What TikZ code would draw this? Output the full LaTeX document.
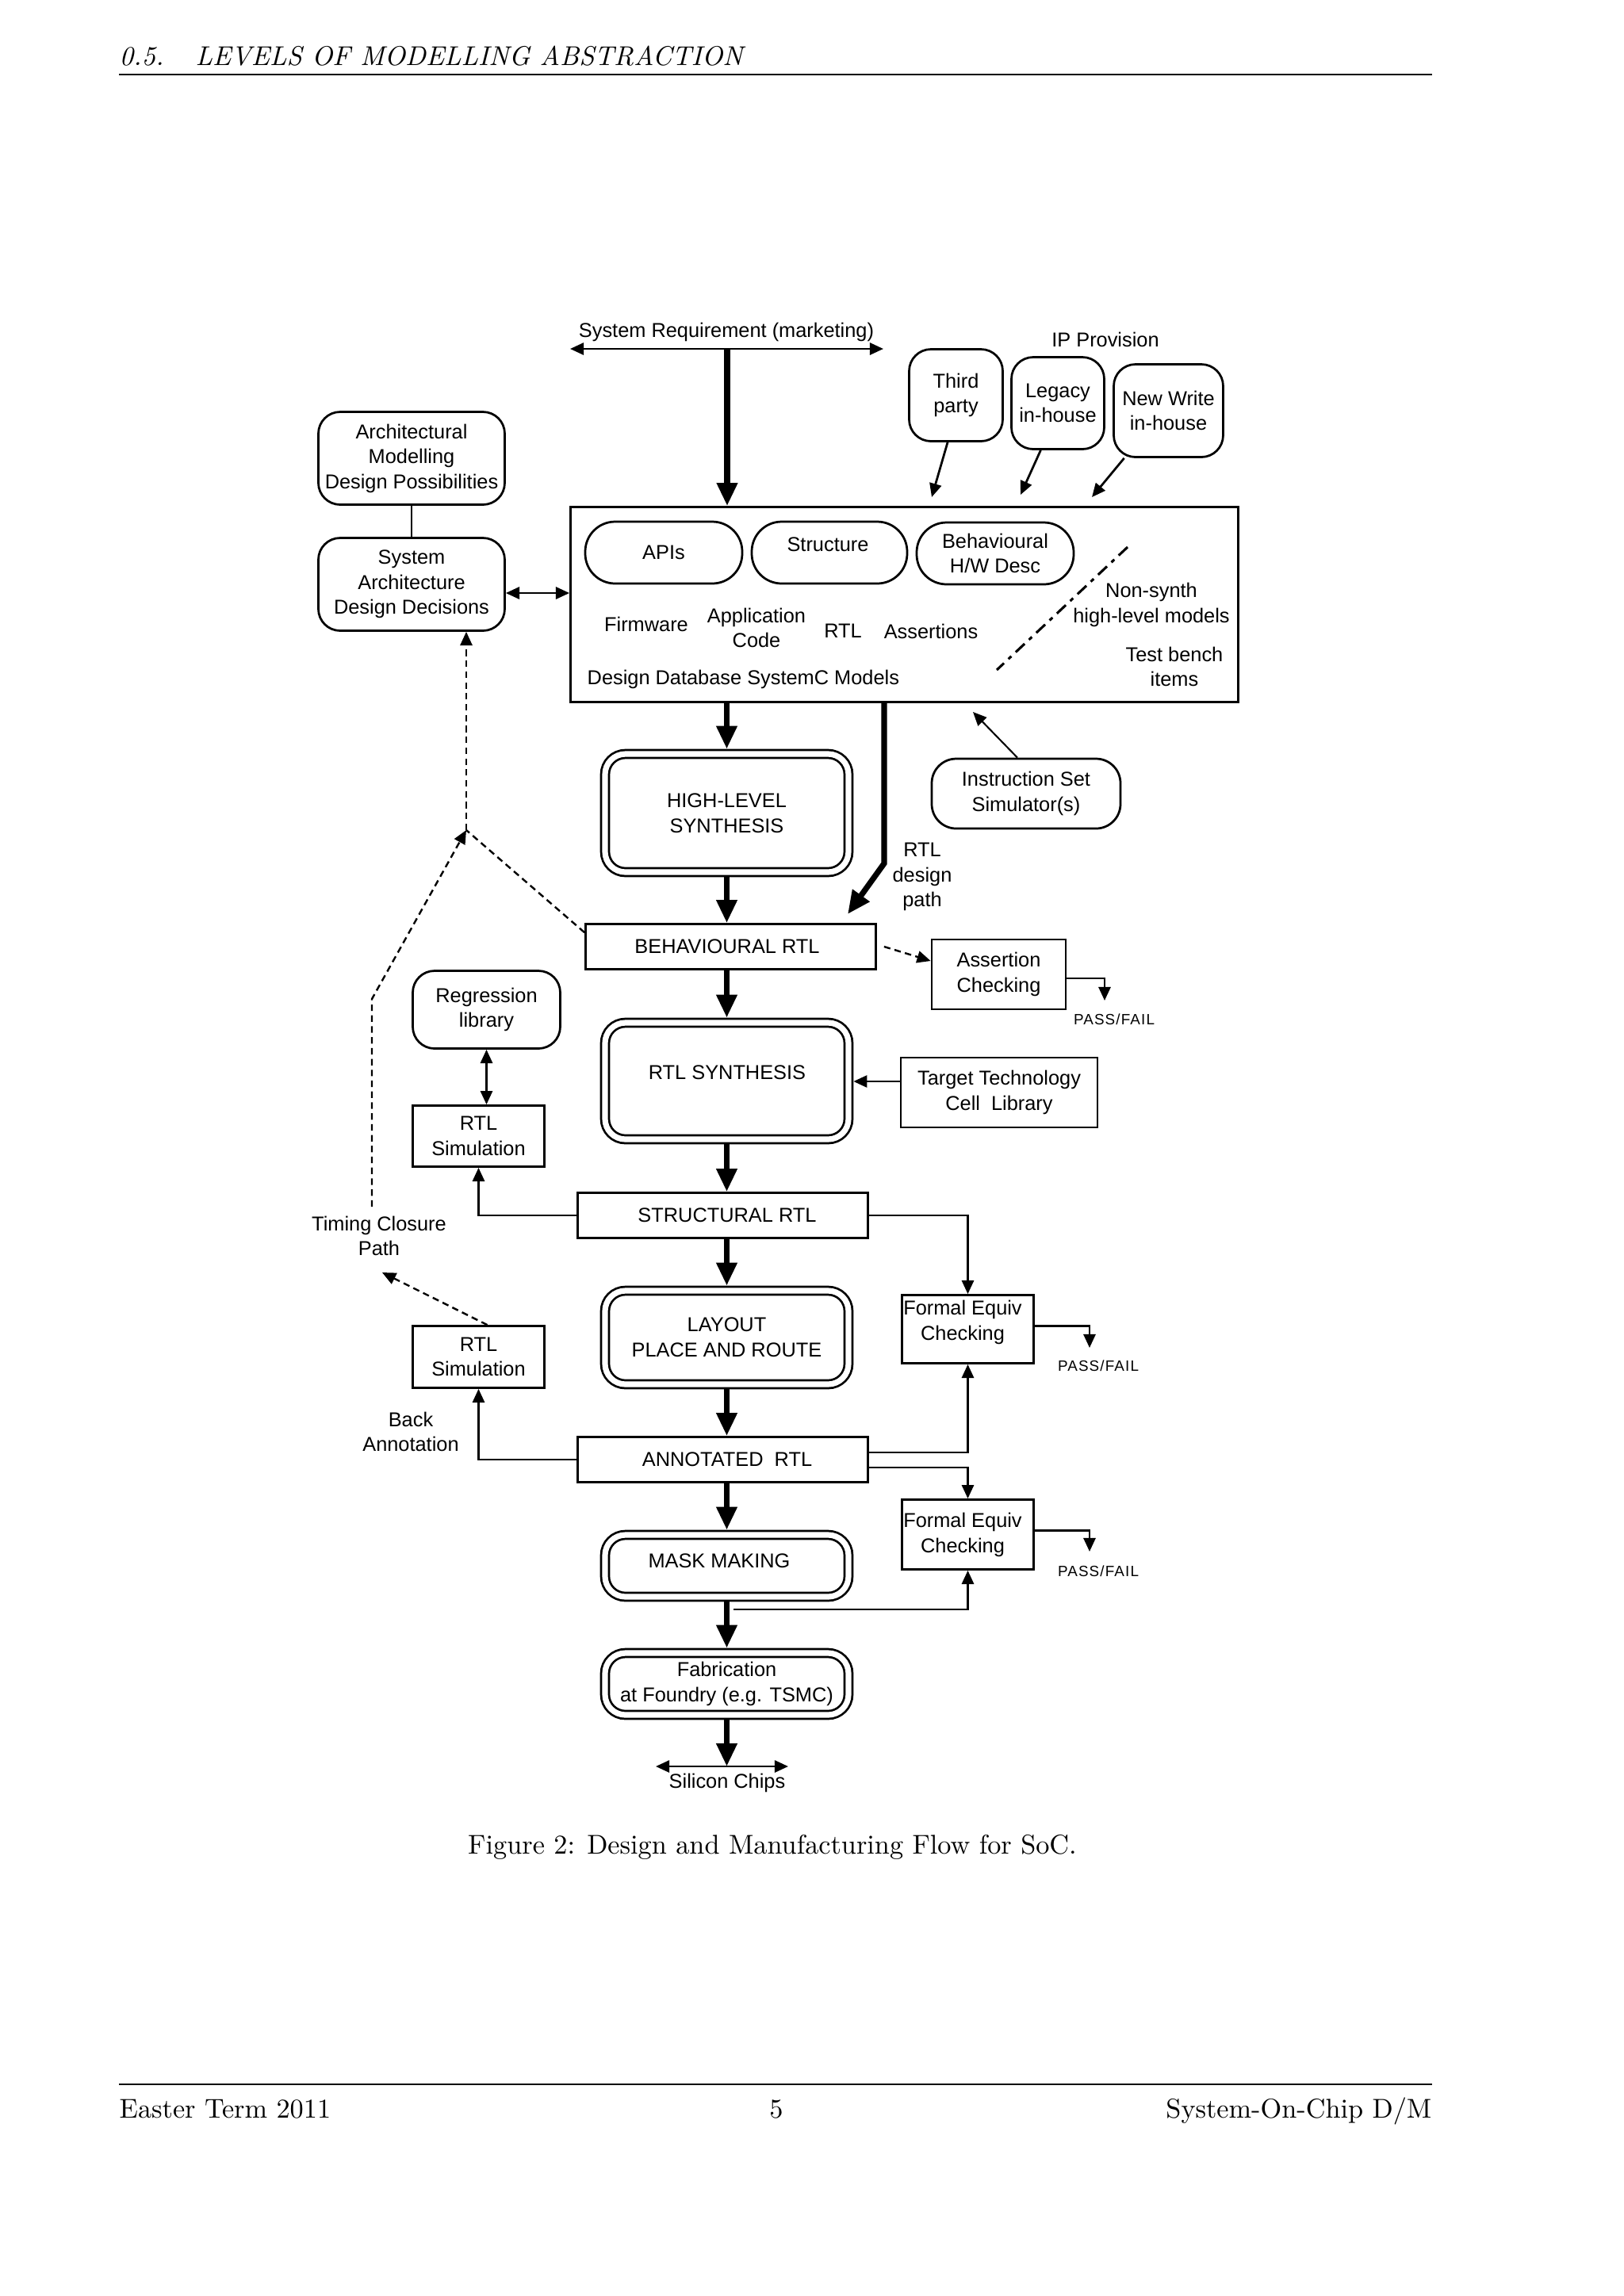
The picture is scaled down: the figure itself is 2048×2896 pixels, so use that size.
\documentclass[tikz,border=0pt]{standalone}
\usepackage{fontspec}
\newfontfamily\dfont{Liberation Sans}
\newfontfamily\pfont[LetterSpace=6]{Liberation Sans}
\usetikzlibrary{arrows.meta,calc}
\newcommand{\pxu}{0.29175pt}
\newcommand{\dsz}{\dfont\fontsize{7.4}{9.2}\selectfont}
\newcommand{\psz}{\pfont\fontsize{5.5}{6.5}\selectfont}
\begin{document}
\begin{tikzpicture}[x=0.010254cm,y=-0.010254cm,
  sz/.style 2 args={minimum width=#1*\pxu, minimum height=#2*\pxu},
  box/.style={draw, line width=0.8pt, inner sep=0pt, align=center, font=\dsz},
  rbox/.style={box, rounded corners=8pt},
  stad/.style={box, rounded corners=11pt},
  dbl/.style={box, rounded corners=7.5pt, double, double distance=2.1pt, outer sep=1.85pt},
  lbl/.style={inner sep=0pt, align=center, font=\dsz},
  pf/.style={inner sep=0pt, font=\psz},
  thk/.style={line width=2.1pt, -{Triangle[width=7.3pt,length=8.5pt]}},
  thn/.style={line width=0.8pt, -{Triangle[width=4.4pt,length=5pt]}},
  thnboth/.style={line width=0.8pt, {Triangle[width=4.4pt,length=5pt]}-{Triangle[width=4.4pt,length=5pt]}},
  plainln/.style={line width=0.8pt},
  dsh/.style={line width=0.7pt, dash pattern=on 2.4pt off 1.6pt},
  dshar/.style={dsh, -{Triangle[width=4.4pt,length=5pt]}},
  dshdot/.style={line width=0.9pt, dash pattern=on 4.5pt off 2.2pt on 1.5pt off 2.2pt}
]
\fill[white] (0,0) rectangle (2048,2896);
\useasboundingbox (0,0) rectangle (2048,2896);

% ---------- page header / footer / caption ----------
\node[anchor=base west, inner sep=0pt, font=\itshape] (hdrnum) at (150,82) {0.5.};
\node[anchor=base west, inner sep=0pt, font=\itshape] (hdrttl) at (246,82) {LEVELS OF MODELLING ABSTRACTION};
\draw[line width=0.4pt] (150,94) -- (1806,94);
\draw[line width=0.4pt] (150,2629) -- (1806,2629);
\node[anchor=base west, inner sep=0pt] (ft1) at (150,2671) {Easter Term 2011};
\node[anchor=base, inner sep=0pt] (ft2) at (979,2671) {5};
\node[anchor=base east, inner sep=0pt] (ft3) at (1806,2671) {System-On-Chip D/M};
\node[anchor=base, inner sep=0pt] (capt) at (974,2338) {Figure 2: Design and Manufacturing Flow for SoC.};

% ---------- top: requirement, IP provision, database ----------
\node[lbl] (sysreq) at (916,419) {System Requirement (marketing)};
\coordinate (srl) at (719,440);
\coordinate (srr) at (1114,440);
\coordinate (srm) at (917,440);
\draw[thnboth] (srl) -- (srr);

\node[box, sz={842}{246}] (db) at (1140.5,762.5) {};
\draw[thk] (srm) -- (srm |- db.north);

\node[lbl] (ipprov) at (1394,428) {IP Provision};
\node[rbox, sz={118}{116}] (third) at (1205.5,498.5) {Third\\party};
\node[rbox, sz={117}{116}] (legacy) at (1334,508.5) {Legacy\\in-house};
\node[rbox, sz={138}{117}] (newwr) at (1473.5,518) {New Write\\in-house};
\coordinate (ipa) at (1175,627);
\coordinate (ipb) at (1287,624);
\coordinate (ipc) at (1377,627);
\draw[thn] (third.260) -- (ipa);
\draw[thn] (legacy.250) -- (ipb);
\draw[thn] (newwr.227) -- (ipc);

\node[stad, sz={198}{78}] (apis) at (837,697) {APIs};
\node[stad, sz={196}{78}] (strc) at (1046,697) {};
\node[lbl] (strctxt) at (1044,687) {Structure};
\node[stad, sz={198}{78}] (behdesc) at (1255,698) {Behavioural\\H/W Desc};
\node[lbl] (firmw) at (815,787) {Firmware};
\node[lbl] (appcode) at (954,792) {Application\\Code};
\node[lbl] (rtltxt) at (1063,796) {RTL};
\node[lbl] (assrt) at (1174,796) {Assertions};
\node[lbl, anchor=west] (dbname) at (740,857) {Design Database SystemC Models};
\node[lbl] (nonsynth) at (1452,763) {Non-synth\\high-level models};
\node[lbl] (testb) at (1481,841) {Test bench\\items};
\coordinate (dg1) at (1422,690);
\coordinate (dg2) at (1257,845);
\draw[dshdot] (dg1) -- (dg2);

% ---------- left architecture nodes ----------
\node[rbox, sz={235}{117}] (arch) at (519,578) {Architectural\\Modelling\\Design Possibilities};
\node[rbox, sz={235}{117}] (sysarch) at (519,737) {System\\Architecture\\Design Decisions};
\draw[plainln] (arch) -- (sysarch);
\coordinate (sa1) at ($(sysarch.east)+(0,11)$);
\draw[thnboth] (sa1) -- (sa1 -| db.west);

% ---------- main flow ----------
\node[dbl, sz={307}{149}] (hls) at (916.5,1025.5) {HIGH-LEVEL\\SYNTHESIS};
\node[box, sz={366}{57}] (behrtl) at (921.5,1194) {};
\node[lbl] (behrtltxt) at (917,1194) {BEHAVIOURAL RTL};
\node[dbl, sz={307}{147}] (rtlsyn) at (916.5,1363.5) {};
\node[lbl] (rtlsyntxt) at (917,1353) {RTL SYNTHESIS};
\node[box, sz={366}{57}] (structrtl) at (911.5,1533) {};
\node[lbl] (structtxt) at (917,1533) {STRUCTURAL RTL};
\node[dbl, sz={307}{118}] (layout) at (916.5,1687) {LAYOUT\\PLACE AND ROUTE};
\node[box, sz={366}{57}] (annot) at (911.5,1841) {};
\node[lbl] (annottxt) at (917,1841) {ANNOTATED\ \ RTL};
\node[dbl, sz={307}{78}] (mask) at (916.5,1975) {};
\node[lbl] (masktxt) at (907,1969) {MASK MAKING};
\node[dbl, sz={307}{78}] (fab) at (916.5,2124) {Fabrication\\at Foundry (e.g. TSMC)};

\draw[thk] (hls.north |- db.south) -- (hls.north);
\draw[thk] (hls.south) -- (hls.south |- behrtl.north);
\draw[thk] (hls.south |- behrtl.south) -- (rtlsyn.north);
\draw[thk] (rtlsyn.south) -- (rtlsyn.south |- structrtl.north);
\draw[thk] (rtlsyn.south |- structrtl.south) -- (layout.north);
\draw[thk] (layout.south) -- (layout.south |- annot.north);
\draw[thk] (layout.south |- annot.south) -- (mask.north);
\draw[thk] (mask.south) -- (fab.north);
\coordinate (chm) at (916.5,2228);
\coordinate (chl) at (827,2228);
\coordinate (chr) at (994,2228);
\draw[thk] (fab.south) -- (chm);
\draw[thnboth] (chl) -- (chr);
\node[lbl] (silicon) at (917,2249) {Silicon Chips};

% RTL design path
\coordinate (rp1) at (1115,1089);
\coordinate (rp2) at (1069,1153);
\draw[thk] (rp1 |- db.south) -- (rp1) -- (rp2);
\node[lbl] (rtlpath) at (1163,1106) {RTL\\design\\path};

% Instruction set simulator
\node[rbox, rounded corners=9pt, sz={238}{88}] (iss) at (1294,1001) {Instruction Set\\Simulator(s)};
\coordinate (issend) at (1227,898);
\draw[thn, line width=0.6pt] ($(iss.north)+(-11,0)$) -- (issend);

% Assertion checking
\node[box, sz={169}{88}] (asrt) at (1259.5,1229) {Assertion\\Checking};
\draw[dshar] ($(behrtl.east)+(9,0)$) -- ($(asrt.west)+(0,-17)$);
\coordinate (pf1) at (1393,1262);
\draw[thn] ($(asrt.east)+(0,5)$) -| (pf1);
\node[pf] (pass1) at (1405,1286) {PASS/FAIL};

% Target technology
\node[box, sz={248}{88}] (tgt) at (1260,1378) {Target Technology\\Cell\ \ Library};
\coordinate (tg1) at ($(tgt.west)+(0,-14)$);
\draw[thn] (tg1) -- (tg1 -| rtlsyn.east);

% Regression / RTL simulation
\node[rbox, sz={186}{98}] (reg) at (613.5,1273.5) {Regression\\library};
\node[box, sz={166}{77}] (sim1) at (603.5,1433) {RTL\\Simulation};
\draw[thnboth] (reg.south) -- (reg.south |- sim1.north);
\draw[thn] (structrtl.west) -| (sim1.south);
\node[box, sz={166}{78}] (sim2) at (603.5,1711.5) {RTL\\Simulation};
\draw[thn] (annot.west) -| (sim2.south);
\node[lbl] (backann) at (518,1806) {Back\\Annotation};
\node[lbl] (tcp) at (478,1559) {Timing Closure\\Path};
\coordinate (tcend) at (482,1605);
\draw[dshar] ($(sim2.north)+(11,0)$) -- (tcend);

% Timing closure path
\coordinate (tcbot) at (469,1522);
\coordinate (tcmid) at (469,1260);
\coordinate (apex) at (588,1047);
\draw[dshar] (tcbot) -- (tcmid) -- (apex);
\draw[dsh] ($(behrtl.north west)+(0,12)$) -- (apex);
\draw[dshar] (apex) -- (apex |- sysarch.south);

% Formal equivalence checking
\node[box, sz={166}{86}] (fec1) at (1220.5,1676.5) {};
\node[lbl] (fec1txt) at (1214,1668) {Formal Equiv\\Checking};
\draw[thn] (structrtl.east) -| (fec1.north);
\coordinate (pf2) at (1374,1700);
\draw[thn] ($(fec1.east)+(0,-4)$) -| (pf2);
\node[pf] (pass2) at (1385,1723) {PASS/FAIL};
\draw[thn] ($(annot.east)+(0,-9)$) -| (fec1.south);

\node[box, sz={166}{88}] (fec2) at (1220.5,1935.5) {};
\node[lbl] (fec2txt) at (1214,1936) {Formal Equiv\\Checking};
\draw[thn] ($(annot.east)+(0,10)$) -| (fec2.north);
\coordinate (pf3) at (1374,1957);
\draw[thn] ($(fec2.east)+(0,-5)$) -| (pf3);
\node[pf] (pass3) at (1385,1982) {PASS/FAIL};
\coordinate (mk) at (925,2030);
\draw[thn] (mk) -| (fec2.south);
\end{tikzpicture}
\end{document}
